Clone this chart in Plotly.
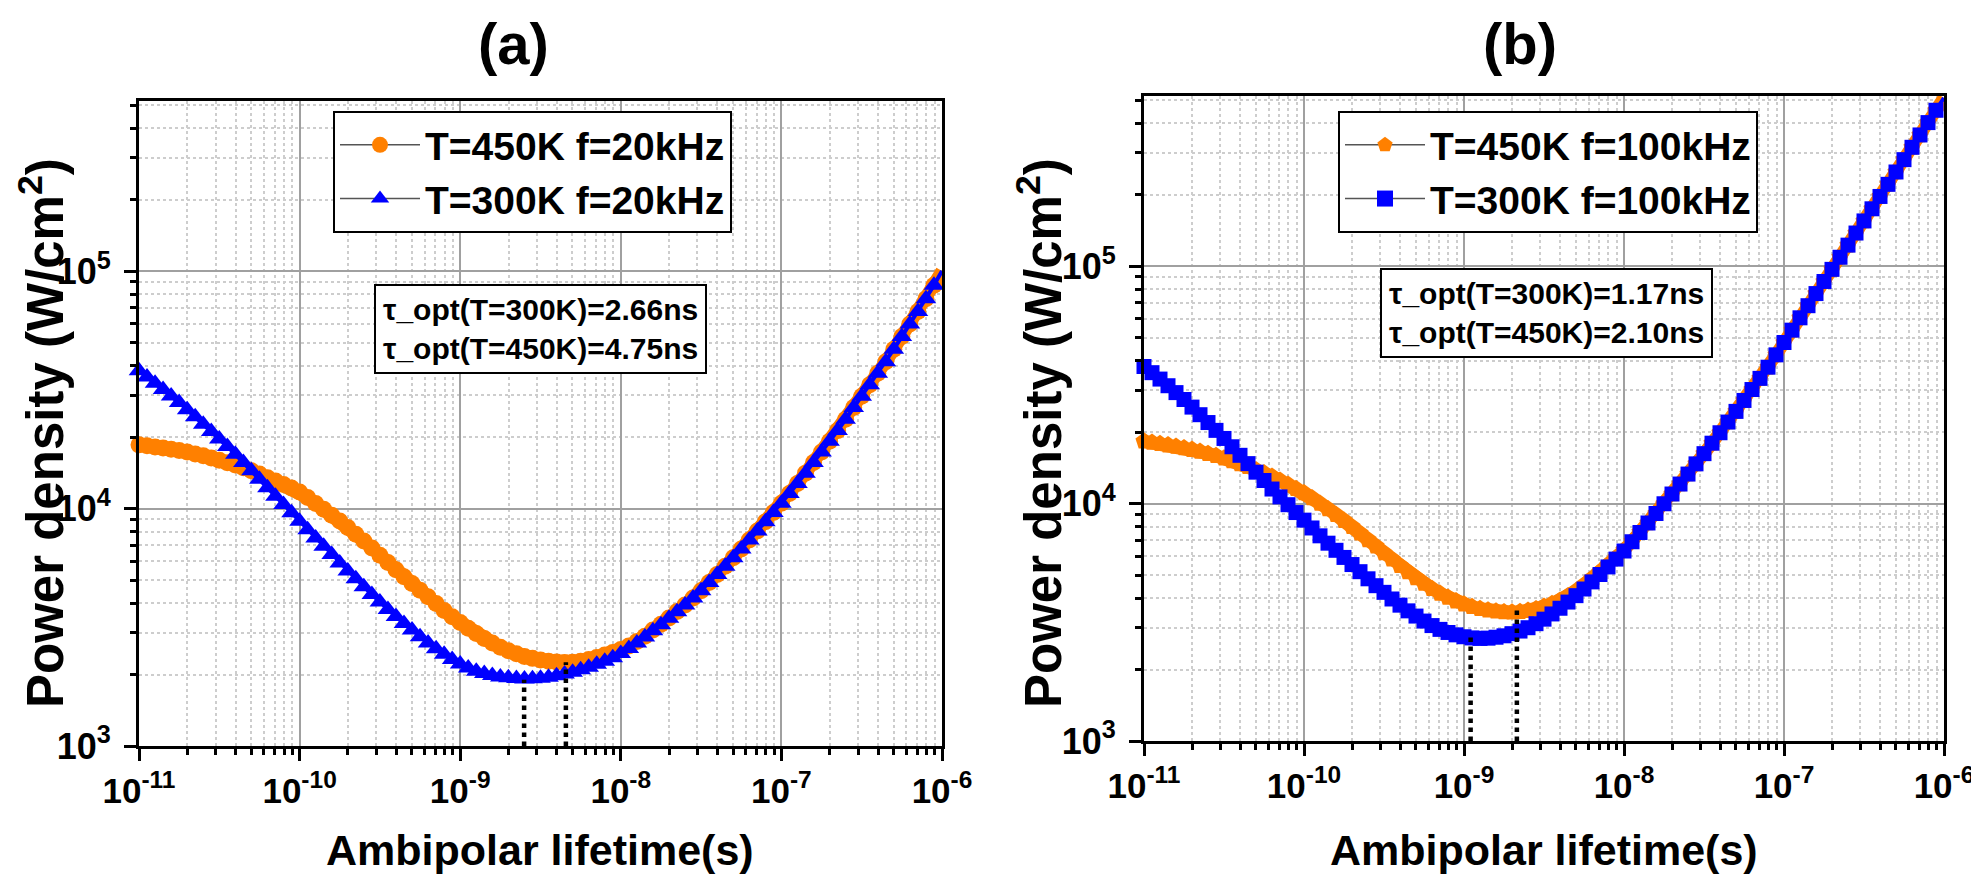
import plotly.graph_objects as go

# ---------------- data ----------------
# lifetime sample positions, as powers of ten (seconds)
TAU_EXP = [
    -11.00, -10.95, -10.90, -10.85, -10.80, -10.75, -10.70, -10.65, -10.60, -10.55,
    -10.50, -10.45, -10.40, -10.35, -10.30, -10.25, -10.20, -10.15, -10.10, -10.05,
    -10.00, -9.95, -9.90, -9.85, -9.80, -9.75, -9.70, -9.65, -9.60, -9.55,
    -9.50, -9.45, -9.40, -9.35, -9.30, -9.25, -9.20, -9.15, -9.10, -9.05,
    -9.00, -8.95, -8.90, -8.85, -8.80, -8.75, -8.70, -8.65, -8.60, -8.55,
    -8.50, -8.45, -8.40, -8.35, -8.30, -8.25, -8.20, -8.15, -8.10, -8.05,
    -8.00, -7.95, -7.90, -7.85, -7.80, -7.75, -7.70, -7.65, -7.60, -7.55,
    -7.50, -7.45, -7.40, -7.35, -7.30, -7.25, -7.20, -7.15, -7.10, -7.05,
    -7.00, -6.95, -6.90, -6.85, -6.80, -6.75, -6.70, -6.65, -6.60, -6.55,
    -6.50, -6.45, -6.40, -6.35, -6.30, -6.25, -6.20, -6.15, -6.10, -6.05,
    -6.00,
]

# power density, log10(W/cm^2)
# (a) T=450K f=20kHz
LOG_P_A_450K = [
    4.268, 4.264, 4.259, 4.255, 4.250, 4.244, 4.238, 4.230, 4.222, 4.213,
    4.203, 4.193, 4.183, 4.172, 4.159, 4.145, 4.130, 4.116, 4.101, 4.086,
    4.070, 4.046, 4.021, 3.997, 3.972, 3.947, 3.920, 3.892, 3.863, 3.834,
    3.803, 3.773, 3.742, 3.713, 3.684, 3.656, 3.628, 3.600, 3.571, 3.544,
    3.520, 3.496, 3.474, 3.453, 3.434, 3.416, 3.401, 3.388, 3.377, 3.369,
    3.362, 3.357, 3.354, 3.352, 3.353, 3.357, 3.364, 3.373, 3.383, 3.394,
    3.406, 3.421, 3.440, 3.462, 3.488, 3.513, 3.539, 3.566, 3.594, 3.623,
    3.654, 3.688, 3.722, 3.757, 3.793, 3.830, 3.867, 3.905, 3.944, 3.983,
    4.022, 4.063, 4.105, 4.149, 4.194, 4.238, 4.283, 4.328, 4.376, 4.425,
    4.473, 4.521, 4.570, 4.618, 4.671, 4.724, 4.777, 4.830, 4.883, 4.940,
    5.000,
]
# (a) T=300K f=20kHz
LOG_P_A_300K = [
    4.580, 4.554, 4.528, 4.501, 4.474, 4.446, 4.416, 4.386, 4.355, 4.324,
    4.293, 4.261, 4.228, 4.194, 4.159, 4.123, 4.087, 4.052, 4.017, 3.982,
    3.946, 3.911, 3.876, 3.841, 3.806, 3.771, 3.737, 3.704, 3.671, 3.638,
    3.606, 3.575, 3.545, 3.516, 3.488, 3.460, 3.434, 3.409, 3.386, 3.364,
    3.345, 3.328, 3.315, 3.305, 3.297, 3.291, 3.287, 3.284, 3.282, 3.283,
    3.285, 3.290, 3.296, 3.303, 3.311, 3.321, 3.332, 3.344, 3.357, 3.372,
    3.390, 3.411, 3.434, 3.459, 3.485, 3.511, 3.538, 3.565, 3.594, 3.623,
    3.654, 3.688, 3.722, 3.757, 3.793, 3.830, 3.867, 3.905, 3.944, 3.983,
    4.022, 4.063, 4.105, 4.149, 4.194, 4.238, 4.283, 4.328, 4.376, 4.425,
    4.473, 4.521, 4.570, 4.618, 4.671, 4.724, 4.777, 4.830, 4.883, 4.940,
    5.000,
]
# (b) T=450K f=100kHz
LOG_P_B_450K = [
    4.262, 4.257, 4.252, 4.246, 4.240, 4.234, 4.227, 4.219, 4.210, 4.201,
    4.191, 4.179, 4.167, 4.155, 4.141, 4.128, 4.114, 4.097, 4.080, 4.062,
    4.044, 4.023, 4.000, 3.977, 3.953, 3.928, 3.902, 3.875, 3.847, 3.820,
    3.792, 3.765, 3.738, 3.712, 3.687, 3.663, 3.641, 3.621, 3.604, 3.589,
    3.576, 3.565, 3.557, 3.551, 3.546, 3.543, 3.542, 3.544, 3.549, 3.556,
    3.566, 3.578, 3.592, 3.611, 3.632, 3.657, 3.684, 3.712, 3.741, 3.772,
    3.804, 3.841, 3.880, 3.918, 3.958, 3.999, 4.040, 4.082, 4.124, 4.167,
    4.210, 4.254, 4.298, 4.343, 4.388, 4.434, 4.480, 4.527, 4.574, 4.626,
    4.678, 4.730, 4.782, 4.833, 4.884, 4.935, 4.986, 5.037, 5.088, 5.139,
    5.190, 5.241, 5.293, 5.344, 5.396, 5.448, 5.500, 5.552, 5.604, 5.656,
    5.708,
]
# (b) T=300K f=100kHz
LOG_P_B_300K = [
    4.577, 4.551, 4.524, 4.496, 4.467, 4.438, 4.406, 4.374, 4.341, 4.308,
    4.274, 4.239, 4.203, 4.168, 4.132, 4.097, 4.061, 4.028, 3.995, 3.962,
    3.930, 3.897, 3.864, 3.833, 3.803, 3.773, 3.743, 3.713, 3.683, 3.654,
    3.626, 3.598, 3.572, 3.548, 3.526, 3.505, 3.486, 3.470, 3.457, 3.447,
    3.439, 3.434, 3.432, 3.433, 3.437, 3.443, 3.452, 3.463, 3.477, 3.494,
    3.513, 3.535, 3.559, 3.585, 3.612, 3.640, 3.670, 3.701, 3.733, 3.766,
    3.800, 3.839, 3.878, 3.918, 3.958, 3.999, 4.040, 4.082, 4.124, 4.167,
    4.210, 4.254, 4.298, 4.343, 4.388, 4.434, 4.480, 4.527, 4.574, 4.626,
    4.678, 4.730, 4.782, 4.833, 4.884, 4.935, 4.986, 5.037, 5.088, 5.139,
    5.190, 5.241, 5.293, 5.344, 5.396, 5.448, 5.500, 5.552, 5.604, 5.656,
    5.708,
]

# optimum lifetime markers (dotted verticals) : lifetime (s) and curve value (W/cm^2)
TAU_OPT_A = [2.5e-9, 4.55e-9]
P_OPT_A = [1.9e3, 2.25e3]
TAU_OPT_B = [1.1e-9, 2.14e-9]
P_OPT_B = [2.85e3, 3.65e3]
P_FLOOR = 1e3

NAMES_A = ["T=450K f=20kHz", "T=300K f=20kHz"]
NAMES_B = ["T=450K f=100kHz", "T=300K f=100kHz"]
BOX_A = ["τ_opt(T=300K)=2.66ns", "τ_opt(T=450K)=4.75ns"]
BOX_B = ["τ_opt(T=300K)=1.17ns", "τ_opt(T=450K)=2.10ns"]
PANEL_TITLES = ["(a)", "(b)"]
X_TITLE = "Ambipolar lifetime(s)"
Y_TITLE = "Power density (W/cm<sup>2</sup>)"

X_TICKS = [1e-11, 1e-10, 1e-9, 1e-8, 1e-7, 1e-6]
X_TICK_TEXT = ["10<sup>-11</sup>", "10<sup>-10</sup>", "10<sup>-9</sup>",
               "10<sup>-8</sup>", "10<sup>-7</sup>", "10<sup>-6</sup>"]
Y_TICKS = [1e3, 1e4, 1e5]
Y_TICK_TEXT = ["10<sup>3</sup>", "10<sup>4</sup>", "10<sup>5</sup>"]

# ---------------- figure ----------------
FONT = "Liberation Sans, Arial, sans-serif"
ORANGE = "#FF8000"
BLUE = "#0000FF"

tau = [10 ** e for e in TAU_EXP]
pa450 = [10 ** v for v in LOG_P_A_450K]
pa300 = [10 ** v for v in LOG_P_A_300K]
pb450 = [10 ** v for v in LOG_P_B_450K]
pb300 = [10 ** v for v in LOG_P_B_300K]

fig = go.Figure()

# panel (a)
fig.add_trace(go.Scatter(x=tau, y=pa450, mode="lines+markers", xaxis="x", yaxis="y",
                         line=dict(color=ORANGE, width=13),
                         marker=dict(symbol="circle", size=17, color=ORANGE),
                         cliponaxis=False, showlegend=False, name=NAMES_A[0]))
fig.add_trace(go.Scatter(x=tau, y=pa300, mode="lines+markers", xaxis="x", yaxis="y",
                         line=dict(color=BLUE, width=4),
                         marker=dict(symbol="triangle-up", size=18, color=BLUE),
                         cliponaxis=False, showlegend=False, name=NAMES_A[1]))
# panel (b)
fig.add_trace(go.Scatter(x=tau, y=pb450, mode="lines+markers", xaxis="x2", yaxis="y2",
                         line=dict(color=ORANGE, width=13),
                         marker=dict(symbol="pentagon", size=18, color=ORANGE),
                         cliponaxis=False, showlegend=False, name=NAMES_B[0]))
fig.add_trace(go.Scatter(x=tau, y=pb300, mode="lines+markers", xaxis="x2", yaxis="y2",
                         line=dict(color=BLUE, width=4),
                         marker=dict(symbol="square", size=15, color=BLUE),
                         cliponaxis=False, showlegend=False, name=NAMES_B[1]))

# dotted optimum lines
for t, p in zip(TAU_OPT_A, P_OPT_A):
    fig.add_trace(go.Scatter(x=[t, t], y=[P_FLOOR, p], mode="lines", xaxis="x", yaxis="y",
                             line=dict(color="black", width=4.5, dash="dot"),
                             showlegend=False, hoverinfo="skip"))
for t, p in zip(TAU_OPT_B, P_OPT_B):
    fig.add_trace(go.Scatter(x=[t, t], y=[P_FLOOR, p], mode="lines", xaxis="x2", yaxis="y2",
                             line=dict(color="black", width=4.5, dash="dot"),
                             showlegend=False, hoverinfo="skip"))

# legend entries (thin connecting line + marker, like the original)
legend_specs = [
    (NAMES_A[0], "circle", ORANGE, "legend", "x", "y"),
    (NAMES_A[1], "triangle-up", BLUE, "legend", "x", "y"),
    (NAMES_B[0], "pentagon", ORANGE, "legend2", "x2", "y2"),
    (NAMES_B[1], "square", BLUE, "legend2", "x2", "y2"),
]
for name, sym, col, lg, xa, ya in legend_specs:
    fig.add_trace(go.Scatter(x=[None], y=[None], mode="lines+markers", xaxis=xa, yaxis=ya,
                             name="<b>" + name + "</b>", legend=lg,
                             line=dict(color="#555555", width=1.5),
                             marker=dict(symbol=sym, size=19, color=col)))

minor_x = [m * 10.0 ** e for e in range(-11, -6) for m in range(2, 10)]
minor_y = [m * 10.0 ** e for e in range(3, 6) for m in range(2, 10)]


def xaxis_cfg(domain, anchor):
    return dict(
        type="log", range=[-11, -6], domain=domain, anchor=anchor,
        tickmode="array", tickvals=X_TICKS, ticktext=["<b>" + t + "</b>" for t in X_TICK_TEXT],
        tickfont=dict(family=FONT, size=35, color="black"),
        ticks="outside", ticklen=12, tickwidth=3, tickcolor="black",
        showline=True, linecolor="black", linewidth=3, mirror=True,
        showgrid=True, gridcolor="#a0a0a0", gridwidth=1.5, zeroline=False,
        minor=dict(tickmode="array", tickvals=minor_x, ticks="outside", ticklen=6,
                   tickwidth=2.5, tickcolor="black", showgrid=True,
                   gridcolor="#cdcdcd", griddash="dot", gridwidth=1.5),
        automargin=False,
    )


def yaxis_cfg(domain, anchor):
    return dict(
        type="log", range=[3, 5.716], domain=domain, anchor=anchor,
        tickmode="array", tickvals=Y_TICKS, ticktext=["<b>" + t + "</b>" for t in Y_TICK_TEXT],
        tickfont=dict(family=FONT, size=36, color="black"),
        ticks="outside", ticklen=12, tickwidth=3, tickcolor="black", ticklabelstandoff=6,
        showline=True, linecolor="black", linewidth=3, mirror=True,
        showgrid=True, gridcolor="#a0a0a0", gridwidth=1.5, zeroline=False,
        minor=dict(tickmode="array", tickvals=minor_y, ticks="outside", ticklen=6,
                   tickwidth=2.5, tickcolor="black", showgrid=True,
                   gridcolor="#cdcdcd", griddash="dot", gridwidth=1.5),
        automargin=False,
    )


W, H = 1979, 876


def px(xp):
    return xp / W


def py(yp):
    return 1 - yp / H


legend_common = dict(
    xanchor="left", yanchor="top", bgcolor="white", bordercolor="black", borderwidth=2,
    font=dict(family=FONT, size=39, color="black"), itemwidth=80, traceorder="normal",
    tracegroupgap=0,
)

annotations = []
for txt, xc in zip(PANEL_TITLES, [505, 1512]):
    annotations.append(dict(text="<b>" + txt + "</b>", x=px(xc), y=py(36), xref="paper", yref="paper",
                            showarrow=False, font=dict(family=FONT, size=58, color="black"),
                            xanchor="center", yanchor="middle"))
for xc in [532, 1536]:
    annotations.append(dict(text="<b>" + X_TITLE + "</b>", x=px(xc), y=py(842), xref="paper", yref="paper",
                            showarrow=False, font=dict(family=FONT, size=43, color="black"),
                            xanchor="center", yanchor="middle"))
for xc in [34, 1032]:
    annotations.append(dict(text="<b>" + Y_TITLE + "</b>", x=px(xc), y=py(425), xref="paper", yref="paper",
                            showarrow=False, textangle=-90, font=dict(family=FONT, size=51, color="black"),
                            xanchor="center", yanchor="middle"))
for lines, xc, yc in [(BOX_A, 532, 321), (BOX_B, 1538, 305)]:
    annotations.append(dict(text="<b>" + "<br>".join(lines) + "</b>", x=px(xc), y=py(yc),
                            xref="paper", yref="paper", showarrow=False, align="left",
                            font=dict(family=FONT, size=30, color="black"),
                            bordercolor="black", borderwidth=2, borderpad=7, bgcolor="white",
                            xanchor="center", yanchor="middle"))

fig.update_layout(
    width=W, height=H,
    margin=dict(l=0, r=0, t=0, b=0),
    paper_bgcolor="white", plot_bgcolor="white",
    font=dict(family=FONT, color="black"),
    xaxis=xaxis_cfg([px(131), px(934)], "y"),
    yaxis=yaxis_cfg([py(738), py(93)], "x"),
    xaxis2=xaxis_cfg([px(1136), px(1936)], "y2"),
    yaxis2=yaxis_cfg([py(733), py(88)], "x2"),
    legend=dict(x=px(325), y=py(103), **legend_common),
    legend2=dict(x=px(1330), y=py(103), **legend_common),
    annotations=annotations,
    showlegend=True,
)

fig.write_html("out.html")
